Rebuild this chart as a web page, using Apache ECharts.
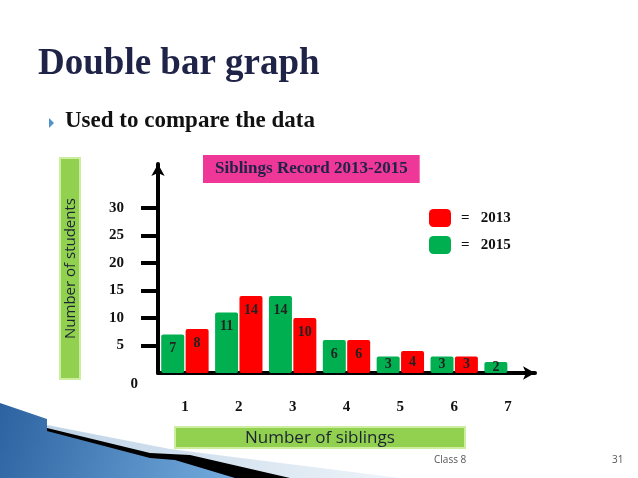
<!DOCTYPE html>
<html>
<head>
<meta charset="utf-8">
<script src="https://cdn.jsdelivr.net/npm/echarts@6/dist/echarts.min.js"></script>
<style>
  html, body {margin: 0; padding: 0; background: #fff;}
  #main {width: 638px; height: 478px;}
</style>
</head>
<body>
<div id="main"></div>
<script>
// siblings record data
var siblings = ["1", "2", "3", "4", "5", "6", "7"];
var students2015 = [7, 11, 14, 6, 3, 3, 2];
var students2013 = [8, 14, 10, 6, 4, 3, null];
var yTicks = [0, 5, 10, 15, 20, 25, 30];

var serif = "'Liberation Serif', 'Times New Roman', serif";
var sans = "'Open Sans', 'Noto Sans', sans-serif";

function bars(vals) {
  return vals.map(function (v) {
    if (v == null) return "-";
    return {value: v, label: {position: v <= 4 ? "inside" : "insideTop"}};
  });
}

var chart = echarts.init(document.getElementById("main"));
var labelStyle = {
  show: true, distance: 7, color: "#222", fontFamily: serif,
  fontWeight: "bold", fontSize: 14
};

var option = {
  animation: false,
  backgroundColor: "#fff",
  title: [{
    text: "Double bar graph", left: 38, top: 46, padding: 0,
    textStyle: {fontFamily: serif, fontWeight: "bold", fontSize: 37, color: "#1f2348"}
  }, {
    text: "Used to compare the data", left: 65, top: 110, padding: 0,
    textStyle: {fontFamily: serif, fontWeight: "bold", fontSize: 23, color: "#111"}
  }, {
    text: "Siblings Record 2013-2015", left: 203, top: 155,
    backgroundColor: "#ee3796", padding: [5, 12, 5, 12],
    textStyle: {fontFamily: serif, fontWeight: "bold", fontSize: 17, lineHeight: 18, color: "#1f2348"}
  }, {
    text: "Number of siblings", left: 175, top: 427,
    backgroundColor: "#92d050", borderColor: "#cdeea0", borderWidth: 2,
    padding: [2, 70, 1, 70],
    textStyle: {fontFamily: sans, fontWeight: "normal", fontSize: 17, lineHeight: 18, color: "#1b2433"}
  }],
  legend: {
    data: ["2013", "2015"], orient: "vertical", left: 424, top: 204,
    icon: "roundRect", itemWidth: 22, itemHeight: 18, itemGap: 9,
    formatter: "=   {name}",
    textStyle: {fontFamily: serif, fontWeight: "bold", fontSize: 15, color: "#111", padding: [0, 0, 0, 5]}
  },
  grid: {left: 158, right: 103, top: 164, bottom: 105, containLabel: false},
  xAxis: {
    type: "category", data: siblings,
    axisLine: {lineStyle: {color: "#000", width: 4}, symbol: ["none", "arrow"], symbolSize: [10, 12]},
    axisTick: {alignWithLabel: true, length: 12, lineStyle: {color: "#000", width: 5}},
    axisLabel: {margin: 27, fontFamily: serif, fontWeight: "bold", fontSize: 15, color: "#111"}
  },
  yAxis: {
    type: "value", min: 0, max: 38,
    name: "Number of students", nameLocation: "middle", nameRotate: 90, nameGap: 79,
    nameTextStyle: {
      fontFamily: sans, fontSize: 15, color: "#1b2433",
      backgroundColor: "#92d050", borderColor: "#cdeea0", borderWidth: 2,
      padding: [2, 39, 1, 39]
    },
    splitLine: {show: false},
    axisLine: {show: true, lineStyle: {color: "#000", width: 4}, symbol: ["none", "arrow"], symbolSize: [10, 12]},
    axisTick: {show: true, customValues: yTicks.slice(1), length: 17, lineStyle: {color: "#000", width: 4}},
    axisLabel: {
      customValues: yTicks, margin: 34, fontFamily: serif, fontWeight: "bold", fontSize: 15, color: "#111",
      formatter: function (v) { return v === 0 ? "{z|0}" : String(v); },
      rich: {z: {fontFamily: serif, fontWeight: "bold", fontSize: 15, color: "#111", padding: [22, -14, 0, 0]}}
    }
  },
  series: [{
    name: "2015", type: "bar", data: bars(students2015),
    barWidth: 23, barGap: "6%",
    itemStyle: {color: "#00b050", borderRadius: 2},
    label: labelStyle
  }, {
    name: "2013", type: "bar", data: bars(students2013),
    barWidth: 23,
    itemStyle: {color: "#ff0000", borderRadius: 2},
    label: labelStyle
  }],
  graphic: [{
    type: "polygon", silent: true,
    shape: {points: [[47, 425], [170, 449], [400, 478], [47, 478]]},
    style: {fill: new echarts.graphic.LinearGradient(0, 0, 1, 0, [
      {offset: 0, color: "#bfd3e7"}, {offset: 1, color: "#eef4f9"}])}
  }, {
    type: "polygon", silent: true,
    shape: {points: [[47, 428], [150, 453], [190, 455], [290, 478], [47, 478]]},
    style: {fill: "#000"}
  }, {
    type: "polygon", silent: true,
    shape: {points: [[0, 403], [47, 419], [47, 431], [150, 458], [175, 460], [235, 478], [0, 478]]},
    style: {fill: new echarts.graphic.LinearGradient(0, 0, 1, 1, [
      {offset: 0, color: "#2c62a0"}, {offset: 1, color: "#74acde"}])}
  }, {
    type: "polygon", silent: true,
    shape: {points: [[49, 118], [54, 123], [49, 128]]},
    style: {fill: "#4f93cc"}
  }, {
    type: "text", left: 434, top: 455,
    style: {text: "Class 8", font: "10px " + sans, fill: "#555"}
  }, {
    type: "text", left: 612, top: 455,
    style: {text: "31", font: "10px " + sans, fill: "#555"}
  }]
};
chart.setOption(option);
</script>
</body>
</html>
